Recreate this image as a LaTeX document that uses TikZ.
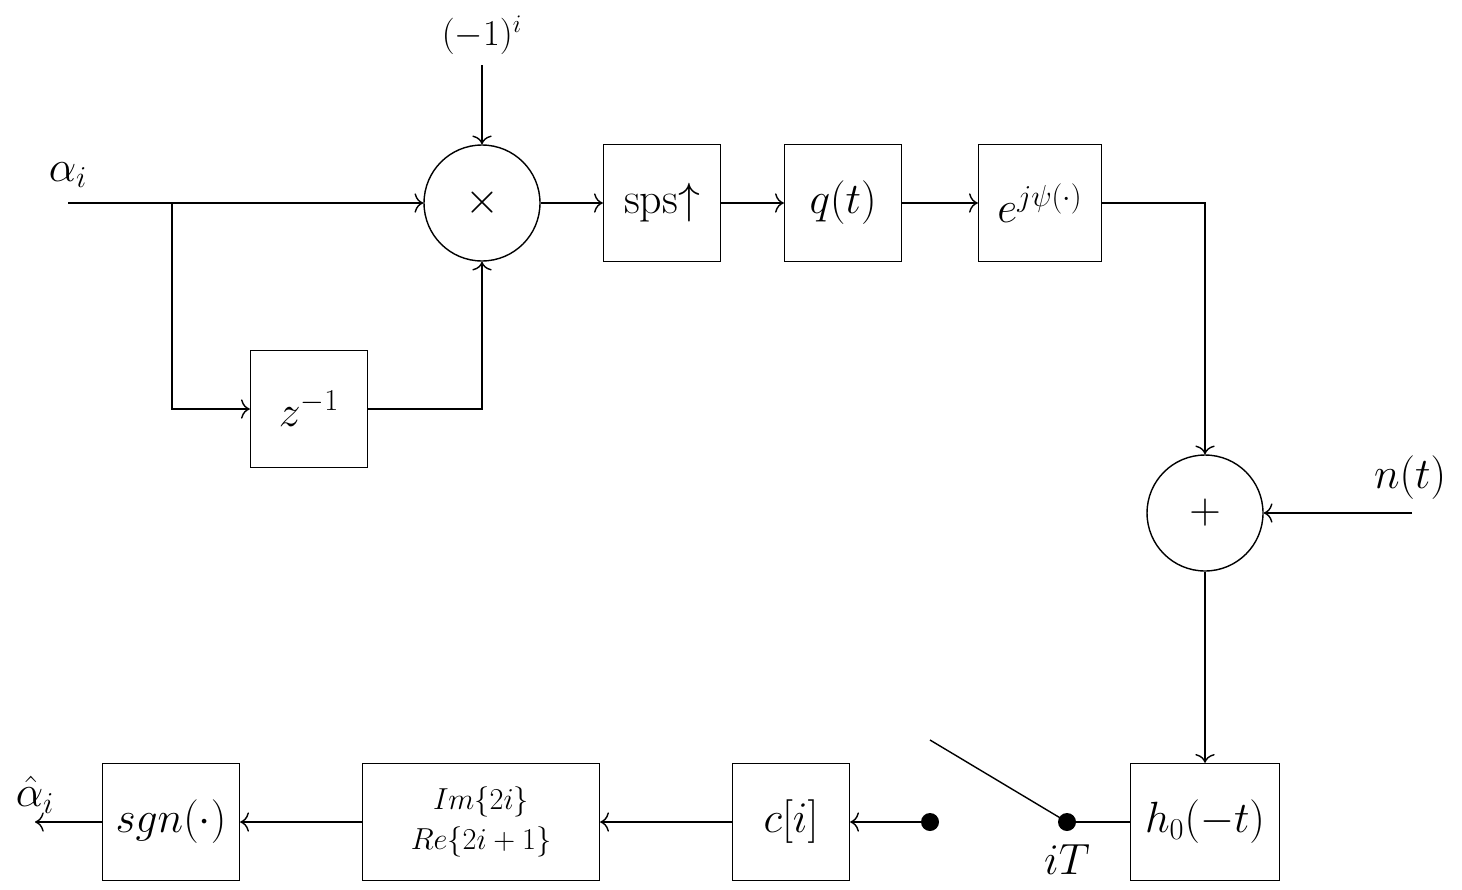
\documentclass[tikz,border=0pt]{standalone}
\usetikzlibrary{arrows.meta}
\begin{document}
\begin{tikzpicture}[x=0.02cm,y=-0.02cm,
  blk/.style={draw,thick,minimum width=2.34cm,minimum height=2.34cm,inner sep=0pt,font=\fontsize{25}{30}\selectfont},
  op/.style={draw,thick,circle,minimum size=2.32cm,inner sep=0pt,font=\fontsize{25}{30}\selectfont},
  lbl/.style={font=\fontsize{25}{30}\selectfont},
  ar/.style={thick,-{To[length=5pt,width=11pt]}},
  ln/.style={thick},
  dot/.style={circle,fill,inner sep=0pt,minimum size=0.36cm}]
\useasboundingbox (0,0) rectangle (1462,889);
\node[op] (mul) at (482,203) {$\times$};
\node[blk] (z) at (309,409) {$z^{-1}$};
\node[blk] (sps) at (662,203) {sps$\uparrow$};
\node[blk] (q) at (843,203) {$q(t)$};
\node[blk,minimum width=2.46cm] (e) at (1040,203) {$e^{j\psi(\cdot)}$};
\node[op] (add) at (1205,513) {$+$};
\node[blk,minimum width=2.98cm] (h) at (1205,822) {$h_0(-t)$};
\node[dot] (d1) at (1067,822) {};
\node[dot] (d2) at (930,822) {};
\node[blk] (c) at (791,822) {$c[i]$};
\node[blk,minimum width=4.74cm,font=\fontsize{17.5}{23}\selectfont,align=center] (im) at (481,822) {$Im\{2i\}$\\$Re\{2i+1\}$};
\node[blk,minimum width=2.74cm] (sgn) at (171,822) {$sgn(\cdot)$};
\node[lbl] (al) at (68,175) {$\alpha_i$};
\node[font=\fontsize{20}{24}\selectfont] (m1) at (482,35) {$(-1)^i$};
\node[lbl] (nt) at (1410,478) {$n(t)$};
\node[lbl] (iT) at (1067,860) {$iT$};
\node[lbl] (ah) at (35,795) {$\hat\alpha_i$};
\coordinate (s) at (68,203);
\coordinate (b) at (172,203);
\coordinate (top) at (482,65);
\coordinate (nin) at (1412,513);
\coordinate (sw) at (930,740);
\coordinate (out) at (35,822);
\draw[ar] (s) -- (mul);
\draw[ar] (b) |- (z);
\draw[ar] (z) -| (mul);
\draw[ar] (top) -- (mul);
\draw[ar] (mul) -- (sps);
\draw[ar] (sps) -- (q);
\draw[ar] (q) -- (e);
\draw[ar] (e.east) -| (add);
\draw[ar] (nin) -- (add);
\draw[ar] (add) -- (h);
\draw[ln] (h) -- (d1.center);
\draw[ln] (d1.center) -- (sw);
\draw[ar] (d2.center) -- (c);
\draw[ar] (c) -- (im);
\draw[ar] (im) -- (sgn);
\draw[ar] (sgn) -- (out);
\end{tikzpicture}
\end{document}
